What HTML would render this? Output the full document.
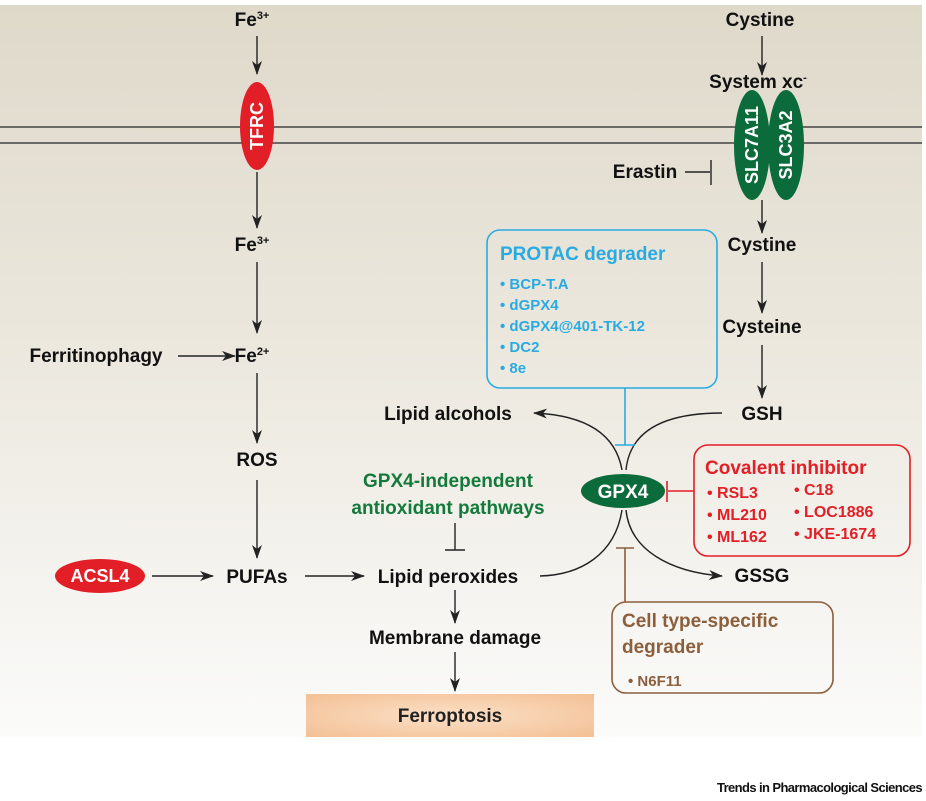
<!DOCTYPE html>
<html><head><meta charset="utf-8"><style>
html,body{margin:0;padding:0;background:#fff;}
svg{display:block;font-family:"Liberation Sans",Arial,sans-serif;font-weight:bold;}
</style></head><body>
<svg width="926" height="801" viewBox="0 0 926 801" xmlns="http://www.w3.org/2000/svg">
<defs>
<linearGradient id="bg" x1="0" y1="0" x2="0" y2="1">
<stop offset="0" stop-color="#dfd9ca"/><stop offset="0.45" stop-color="#ebe7dd"/><stop offset="1" stop-color="#fbfbfa"/>
</linearGradient>
<radialGradient id="fr" cx="0.5" cy="0.5" r="0.7">
<stop offset="0" stop-color="#fbe0c6"/><stop offset="1" stop-color="#f3c095"/>
</radialGradient>
<marker id="a" markerWidth="14" markerHeight="12" refX="13" refY="6" orient="auto" markerUnits="userSpaceOnUse">
<path d="M0,1 L14,6 L0,11 L4,6 Z" fill="#222"/></marker>
</defs>
<rect x="0" y="5" width="922" height="732" fill="url(#bg)"/>
<line x1="0" y1="127" x2="922" y2="127" stroke="#444" stroke-width="1.5"/>
<line x1="0" y1="143" x2="922" y2="143" stroke="#444" stroke-width="1.5"/>
<g stroke="#222" stroke-width="1.4" fill="none" marker-end="url(#a)">
<line x1="257" y1="36" x2="257" y2="74"/>
<line x1="257" y1="172" x2="257" y2="228"/>
<line x1="257" y1="262" x2="257" y2="333"/>
<line x1="178" y1="356" x2="235" y2="356"/>
<line x1="257" y1="373" x2="257" y2="443"/>
<line x1="257" y1="480" x2="257" y2="558"/>
<line x1="152" y1="576" x2="213" y2="576"/>
<line x1="305" y1="576" x2="364" y2="576"/>
<line x1="455" y1="590" x2="455" y2="623"/>
<line x1="455" y1="652" x2="455" y2="691"/>
<line x1="762" y1="36" x2="762" y2="75"/>
<line x1="762" y1="200" x2="762" y2="233"/>
<line x1="762" y1="262" x2="762" y2="313"/>
<line x1="762" y1="345" x2="762" y2="398"/>
<path d="M622,470 C615,430 580,415 534,413"/>
<path d="M626,510 C630,550 670,572 722,576"/>
</g>
<g stroke="#222" stroke-width="1.4" fill="none">
<path d="M626,470 C630,430 665,413 722,413"/>
<path d="M622,510 C615,555 580,575 540,576"/>
<line x1="685" y1="172" x2="710" y2="172"/><line x1="711" y1="160" x2="711" y2="185"/>
<line x1="455" y1="523" x2="455" y2="550"/><line x1="445" y1="550" x2="465" y2="550"/>
</g>
<g fill="#111" font-size="19" text-anchor="middle">
<text x="252" y="26">Fe<tspan font-size="11" dy="-7">3+</tspan></text>
<text x="252" y="251">Fe<tspan font-size="11" dy="-7">3+</tspan></text>
<text x="252" y="362">Fe<tspan font-size="11" dy="-7">2+</tspan></text>
<text x="96" y="362">Ferritinophagy</text>
<text x="257" y="466">ROS</text>
<text x="257" y="583">PUFAs</text>
<text x="448" y="583">Lipid peroxides</text>
<text x="455" y="644">Membrane damage</text>
<text x="448" y="420">Lipid alcohols</text>
<text x="760" y="26">Cystine</text>
<text x="758" y="88">System xc<tspan font-size="11" dy="-7">-</tspan></text>
<text x="645" y="178">Erastin</text>
<text x="762" y="251">Cystine</text>
<text x="762" y="333">Cysteine</text>
<text x="762" y="420">GSH</text>
<text x="762" y="582">GSSG</text>
</g>
<ellipse cx="257" cy="126" rx="17" ry="44" fill="#e21f26"/>
<text transform="translate(263,126) rotate(-90)" text-anchor="middle" fill="#fff" font-size="18">TFRC</text>
<ellipse cx="752" cy="145" rx="18" ry="55" fill="#0b6b3a"/>
<ellipse cx="786" cy="145" rx="18" ry="55" fill="#0b6b3a"/>
<text transform="translate(758,145) rotate(-90)" text-anchor="middle" fill="#fff" font-size="18">SLC7A11</text>
<text transform="translate(792,145) rotate(-90)" text-anchor="middle" fill="#fff" font-size="18">SLC3A2</text>
<ellipse cx="100" cy="576" rx="45" ry="17" fill="#e21f26"/>
<text x="100" y="582" text-anchor="middle" fill="#fff" font-size="18">ACSL4</text>
<rect x="487" y="230" width="230" height="158" rx="13" fill="none" stroke="#29abe2" stroke-width="1.6"/>
<g fill="#29abe2" font-size="15">
<text x="500" y="260" font-size="19">PROTAC degrader</text>
<text x="500" y="289">• BCP-T.A</text>
<text x="500" y="310">• dGPX4</text>
<text x="500" y="331">• dGPX4@401-TK-12</text>
<text x="500" y="352">• DC2</text>
<text x="500" y="373">• 8e</text>
</g>
<line x1="625" y1="388" x2="625" y2="445" stroke="#29abe2" stroke-width="1.6"/>
<line x1="615" y1="445" x2="635" y2="445" stroke="#29abe2" stroke-width="1.6"/>
<g fill="#137a3c" font-size="19" text-anchor="middle">
<text x="448" y="487">GPX4-independent</text>
<text x="448" y="514">antioxidant pathways</text>
</g>
<ellipse cx="623" cy="491" rx="42" ry="17" fill="#0b6b3a"/>
<text x="623" y="498" text-anchor="middle" fill="#fff" font-size="19">GPX4</text>
<rect x="694" y="445" width="216" height="111" rx="14" fill="none" stroke="#e21f26" stroke-width="1.6"/>
<line x1="668" y1="491" x2="694" y2="491" stroke="#e21f26" stroke-width="1.6"/>
<line x1="667" y1="481" x2="667" y2="502" stroke="#e21f26" stroke-width="1.6"/>
<g fill="#e21f26" font-size="16">
<text x="705" y="474" font-size="19">Covalent inhibitor</text>
<text x="707" y="498">• RSL3</text>
<text x="707" y="520">• ML210</text>
<text x="707" y="542">• ML162</text>
<text x="794" y="495">• C18</text>
<text x="794" y="517">• LOC1886</text>
<text x="794" y="539">• JKE-1674</text>
</g>
<rect x="612" y="602" width="221" height="91" rx="14" fill="none" stroke="#8b5e3c" stroke-width="1.6"/>
<line x1="625" y1="602" x2="625" y2="548" stroke="#8b5e3c" stroke-width="1.6"/>
<line x1="616" y1="548" x2="634" y2="548" stroke="#8b5e3c" stroke-width="1.6"/>
<g fill="#8b5e3c" font-size="19">
<text x="622" y="627">Cell type-specific</text>
<text x="622" y="653">degrader</text>
<text x="628" y="686" font-size="15">• N6F11</text>
</g>
<rect x="306" y="694" width="288" height="43" fill="url(#fr)"/>
<text x="450" y="722" text-anchor="middle" fill="#222" font-size="19">Ferroptosis</text>
<text x="922" y="792" text-anchor="end" fill="#111" font-size="13" letter-spacing="-0.6">Trends in Pharmacological Sciences</text>
</svg>
</body></html>
